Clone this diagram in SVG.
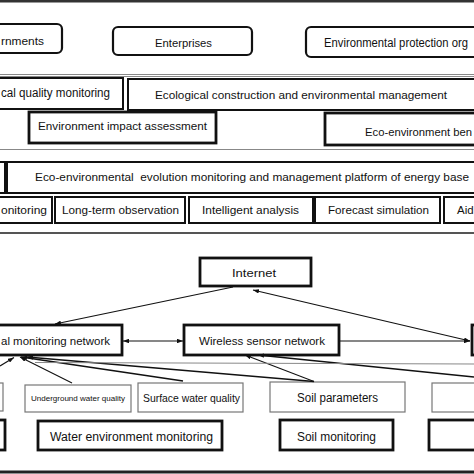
<svg xmlns="http://www.w3.org/2000/svg" width="474" height="474" viewBox="0 0 474 474">
<style>
text{font-family:"Liberation Sans",Arial,sans-serif;font-size:11.5px;fill:#111}
.rb{fill:#fff;stroke:#111;stroke-width:2.2}
.b{fill:#fff;stroke:#111;stroke-width:2}
.bt{fill:#fff;stroke:#111;stroke-width:2.8}
.g{fill:#fff;stroke:#777;stroke-width:1.2}
.sep{stroke:#888;stroke-width:1;fill:none}
.c{stroke:#111;stroke-width:1.1;fill:none}
.cb{stroke:#111;stroke-width:1.6;fill:none}
.m{text-anchor:middle}
.e{text-anchor:end}
</style>
<defs>
<marker id="ah" viewBox="0 0 8 6" refX="8" refY="3" markerWidth="6" markerHeight="4.5" markerUnits="userSpaceOnUse" orient="auto-start-reverse">
<path d="M0,0 L8,3 L0,6 z" fill="#111"/>
</marker>
</defs>
<rect width="474" height="474" fill="#fff"/>
<g id="frame">
<line x1="0" y1="1.2" x2="474" y2="1.2" stroke="#333" stroke-width="2.5"/>
<line class="sep" x1="0" y1="74.5" x2="474" y2="74.5"/>
<line class="sep" x1="0" y1="76.5" x2="474" y2="76.5"/>
<line class="sep" x1="0" y1="149.5" x2="474" y2="149.5"/>
<line x1="0" y1="233" x2="474" y2="233" stroke="#555" stroke-width="2"/>
<line x1="0" y1="472" x2="474" y2="472" stroke="#222" stroke-width="3"/>
</g>
<g id="governments"><rect class="rb" x="-10" y="24" width="72" height="29" rx="5"/><text x="1" y="45" textLength="43" lengthAdjust="spacingAndGlyphs">rnments</text></g>
<g id="enterprises"><rect class="rb" x="113" y="27" width="139" height="28" rx="5"/><text x="155" y="47" textLength="57" lengthAdjust="spacingAndGlyphs">Enterprises</text></g>
<g id="envprot"><rect class="rb" x="306" y="27" width="180" height="30" rx="5"/><text x="324" y="47" textLength="144" lengthAdjust="spacingAndGlyphs" style="font-size:12px">Environmental protection org</text></g>
<g id="quality"><rect class="b" x="-10" y="78" width="133" height="31"/><text x="1" y="97" textLength="109" lengthAdjust="spacingAndGlyphs" style="font-size:12px">cal quality monitoring</text></g>
<g id="ecocons"><rect class="b" x="128" y="79" width="360" height="31"/><text x="155" y="99" textLength="292" lengthAdjust="spacingAndGlyphs">Ecological construction and environmental management</text></g>
<g id="eia"><rect class="bt" x="29" y="112" width="187" height="31"/><text x="38" y="130" textLength="169" lengthAdjust="spacingAndGlyphs">Environment impact assessment</text></g>
<g id="ecoben"><rect class="bt" x="325" y="113" width="160" height="32"/><text x="365" y="136" textLength="107" lengthAdjust="spacingAndGlyphs">Eco-environment ben</text></g>
<g id="platform"><rect class="b" x="-10" y="162" width="15" height="31"/><rect class="b" x="7" y="162" width="480" height="31"/><text x="35" y="181" textLength="434" lengthAdjust="spacingAndGlyphs" xml:space="preserve">Eco-environmental  evolution monitoring and management platform of energy base</text></g>
<g id="mon"><rect class="b" x="-10" y="197" width="62" height="26"/><text x="1" y="214" textLength="46" lengthAdjust="spacingAndGlyphs">onitoring</text></g>
<g id="longterm"><rect class="b" x="55" y="197" width="130" height="26"/><text x="62" y="214" textLength="117" lengthAdjust="spacingAndGlyphs">Long-term observation</text></g>
<g id="intel"><rect class="b" x="189" y="197" width="124" height="26"/><text x="202" y="214" textLength="97" lengthAdjust="spacingAndGlyphs">Intelligent analysis</text></g>
<g id="forecast"><rect class="b" x="315" y="197" width="125" height="26"/><text x="328" y="214" textLength="101" lengthAdjust="spacingAndGlyphs">Forecast simulation</text></g>
<g id="aid"><rect class="b" x="444" y="197" width="45" height="26"/><text x="457" y="214">Aid</text></g>
<g id="internet"><rect class="bt" x="200" y="258" width="111" height="28"/><text x="232" y="277" textLength="44" lengthAdjust="spacingAndGlyphs">Internet</text></g>
<g id="monnet"><rect class="bt" x="-10" y="325" width="132" height="30"/><text x="1" y="345" textLength="109" lengthAdjust="spacingAndGlyphs">al monitoring network</text></g>
<g id="wsn"><rect class="bt" x="184" y="325" width="155" height="30"/><text x="199" y="345" textLength="126" lengthAdjust="spacingAndGlyphs">Wireless sensor network</text></g>
<g id="rightnet"><rect class="bt" x="472" y="325" width="20" height="30"/></g>
<g id="leftA"><rect class="g" x="-10" y="383" width="13" height="28"/></g>
<g id="underground"><rect class="g" x="25" y="385" width="106" height="27"/><text x="31" y="401" textLength="94" lengthAdjust="spacingAndGlyphs" style="font-size:7.5px">Underground water quality</text></g>
<g id="surface"><rect class="g" x="138" y="383" width="105" height="29"/><text x="143" y="402" textLength="97" lengthAdjust="spacingAndGlyphs" style="font-size:11px">Surface water quality</text></g>
<g id="soilpar"><rect class="g" x="270" y="382" width="135" height="30"/><text x="297" y="402" textLength="81" lengthAdjust="spacingAndGlyphs" style="font-size:12px">Soil parameters</text></g>
<g id="rightA"><rect class="g" x="432" y="383" width="60" height="29"/></g>
<g id="leftB"><rect class="bt" x="-10" y="420" width="15" height="30"/></g>
<g id="water"><rect class="bt" x="38" y="421" width="184" height="29"/><text x="50" y="441" textLength="163" lengthAdjust="spacingAndGlyphs" style="font-size:12.5px">Water environment monitoring</text></g>
<g id="soilmon"><rect class="bt" x="280" y="420" width="113" height="30"/><text x="297" y="441" textLength="79" lengthAdjust="spacingAndGlyphs" style="font-size:12.5px">Soil monitoring</text></g>
<g id="rightB"><rect class="bt" x="429" y="420" width="60" height="30"/></g>
<g id="connectors">
<line class="c" x1="233" y1="287" x2="55" y2="324" marker-end="url(#ah)"/>
<line class="c" x1="253" y1="290" x2="470" y2="341" marker-start="url(#ah)" marker-end="url(#ah)"/>
<line class="c" x1="123" y1="341" x2="183" y2="341" marker-start="url(#ah)" marker-end="url(#ah)"/>
<line class="c" x1="340" y1="341" x2="470" y2="341" marker-end="url(#ah)"/>
<line class="c" x1="0" y1="366" x2="14" y2="357.5" marker-end="url(#ah)"/>
<line class="c" x1="72" y1="383" x2="20" y2="357" marker-end="url(#ah)"/>
<line class="cb" x1="183" y1="381" x2="21" y2="357" marker-end="url(#ah)"/>
<line class="cb" x1="314" y1="381.5" x2="27" y2="357" marker-end="url(#ah)"/>
<line class="c" x1="314" y1="381.5" x2="245" y2="355" marker-end="url(#ah)"/>
<line class="cb" x1="474" y1="377" x2="258" y2="355" marker-end="url(#ah)"/>
<line class="sep" x1="35" y1="362.5" x2="474" y2="364"/>
</g>
</svg>
